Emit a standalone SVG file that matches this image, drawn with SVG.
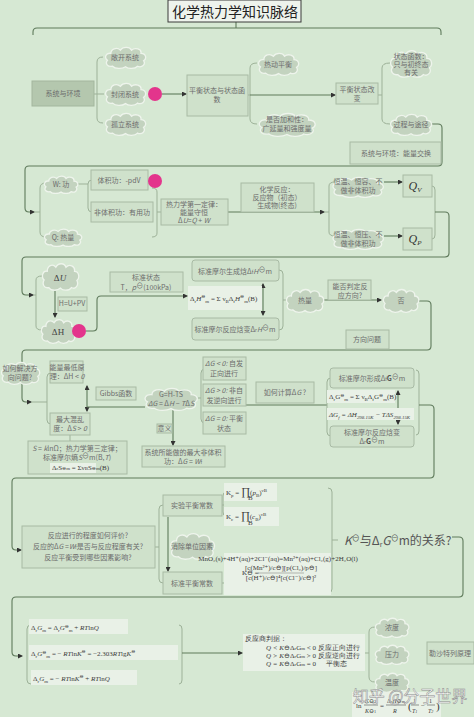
<svg xmlns="http://www.w3.org/2000/svg" xmlns:xlink="http://www.w3.org/1999/xlink" width="474" height="717" viewBox="0 0 474 717">
<defs>
<style>
.bx{fill:#cfe1cb;stroke:#a8baa4;stroke-width:1}
.bd{fill:#b4c7ae;stroke:#a3b69e;stroke-width:1}
.cp{fill:#c3d3bf;stroke:#eef4ec;stroke-width:1.3}
.t{font-family:"Noto Sans CJK SC","Noto Sans",sans-serif;font-size:7px;fill:#6c6c6c;text-anchor:middle}
.ln{fill:none;stroke:#5f7a5b;stroke-width:1.1}
.br{fill:none;stroke:#9db198;stroke-width:1}
.fb{fill:#e9f1e7}
.ff{font-family:"Liberation Serif","DejaVu Serif",serif;font-size:7px;fill:#3a3a3a}
.s{font-size:70%}
.i{font-style:italic}
.pk{fill:#e3358c}
</style>
<symbol id="cloud" viewBox="0 0 100 50" preserveAspectRatio="none">
<path class="cp" vector-effect="non-scaling-stroke" d="M20,44 C8,46 2,38 8,31 C0,26 4,14 16,16 C16,6 30,2 38,9 C44,1 60,1 64,9 C72,3 88,6 86,16 C98,16 100,28 92,32 C98,40 88,48 78,44 C72,50 56,50 50,45 C42,50 26,50 20,44 Z"/>
</symbol>
<marker id="ar" markerWidth="5" markerHeight="5" refX="4" refY="2.5" orient="auto" markerUnits="userSpaceOnUse"><path d="M0,0 L5,2.5 L0,5 Z" fill="#333"/></marker>
<marker id="as" markerWidth="5" markerHeight="5" refX="1" refY="2.5" orient="auto" markerUnits="userSpaceOnUse"><path d="M5,0 L0,2.5 L5,5 Z" fill="#333"/></marker>
</defs>
<rect width="474" height="717" fill="#d6e8d3"/>

<g id="connectors">
<path class="ln" d="M236,22 L236,28 M33,35 L33,32 Q33,28 37,28 L437,28 Q441,28 441,32 L441,35"/>
<path class="br" d="M94,94 L97,94 M103,57 Q97,57 97,62 L97,118 Q97,123 103,123 M97,94 L104,94"/>
<path class="ln" d="M162,94 L186,94" marker-end="url(#ar)"/>
<path class="br" d="M248,95 L250,95 M257,63 Q250,63 250,68 L250,119 Q250,124 257,124"/>
<path class="ln" d="M250,95 L335,95" marker-end="url(#ar)"/>
<path class="br" d="M378,95 L382,95 M390,63 Q382,63 382,68 L382,119 Q382,124 390,124"/>
<path class="ln" d="M432,124 L438,124 Q442,124 442,128 L442,162 Q442,166 438,166 L29,166 Q25,166 25,170 L25,208 Q25,212 29,212 L34,212" marker-end="url(#ar)"/>
<path class="br" d="M34,212 L40,212 M46,183 Q40,183 40,188 L40,232 Q40,237 46,237"/>
<path class="br" d="M78,184 L88,184 M92,180 Q88,180 88,184 L88,208 Q88,212 92,212"/>
<path class="br" d="M152,188 Q157,188 157,192 L157,233 Q157,237 152,237 M157,212 L161,212"/>
<path class="ln" d="M228,212 L324,212" marker-end="url(#ar)"/>
<path class="br" d="M324,212 L329,212 M335,182 Q329,182 329,186 L329,232 Q329,236 335,236"/>
<path class="ln" d="M384,182 L402,182" marker-end="url(#ar)"/>
<path class="ln" d="M384,236 L402,236" marker-end="url(#ar)"/>
<path class="br" d="M432,186 Q435,186 435,190 L435,235 Q435,239 432,239"/>
<path class="ln" d="M435,212 L445,212 Q449,212 449,216 L449,253 Q449,257 445,257 L26,257 Q22,257 22,261 L22,291 Q22,295 26,295 L33,295" marker-end="url(#ar)"/>
<path class="br" d="M33,295 L36,295 M42,276 Q36,276 36,280 L36,326 Q36,330 42,330"/>
<path class="ln" d="M55,291 L55,317" marker-end="url(#ar)"/>
<path class="ln" d="M86,331 L93,331 Q97,331 97,327 L97,300 Q97,296 101,296 L187,296" marker-end="url(#ar)"/>
<path class="ln" d="M263,284 L263,315" marker-start="url(#as)" marker-end="url(#ar)"/>
<path class="br" d="M279,270 Q283,270 283,274 L283,326 Q283,330 279,330 M283,300 L286,300"/>
<path class="ln" d="M324,300 L381,300" marker-end="url(#ar)"/>
<path class="ln" d="M419,301 L427,301 Q431,301 431,305 L431,346 Q431,350 427,350 L26,350 Q22,350 22,354 L22,398 Q22,402 26,402 L31,402" marker-end="url(#ar)"/>
<path class="br" d="M31,402 L47,402 M51,373 Q47,373 47,377 L47,420 Q47,424 51,424"/>
<path class="br" d="M70,435 L70,441"/>
<path class="ln" d="M87,386 L87,411" marker-start="url(#as)" marker-end="url(#ar)"/>
<path class="ln" d="M87,407 L145,407"/>
<path class="br" d="M198,398 L201,398 M205,369 Q201,369 201,373 L201,419 Q201,423 205,423"/>
<path class="ln" d="M173,410 L173,445" marker-end="url(#ar)"/>
<path class="ln" d="M246,405 L327,405"/>
<path class="br" d="M331,378 Q327,378 327,382 L327,432 Q327,436 331,436"/>
<path class="ln" d="M398,391 L398,424" marker-start="url(#as)" marker-end="url(#ar)"/>
<path class="br" d="M416,370 Q419,370 419,374 L419,431 Q419,435 416,435"/>
<path class="ln" d="M419,405 L430,405 Q434,405 434,409 L434,474 Q434,478 430,478 L16,478 Q12,478 12,482 L12,546 Q12,550 16,550 L21,550" marker-end="url(#ar)"/>
<path class="br" d="M155,547 L159,547 M163,505 Q159,505 159,509 L159,579 Q159,583 163,583"/>
<path class="ln" d="M168,517 L168,571" marker-end="url(#ar)"/>
<path class="br" d="M222,505 L224,505 M226,492 Q223,492 223,496 L223,512 Q223,516 226,516"/>
<path class="br" d="M222,583 L224,583"/>
<path class="br" d="M328,488 Q332,488 332,492 L332,589 Q332,593 328,593 M332,540 L338,540"/>
<path class="ln" d="M452,537 L459,537 Q463,537 463,541 L463,593 Q463,597 459,597 L16,597 Q12,597 12,601 L12,652 Q12,656 16,656 L22,656" marker-end="url(#ar)"/>
<path class="br" d="M31,625 Q27,625 27,629 L27,680 Q27,684 31,684"/>
<path class="br" d="M179,625 Q182,625 182,629 L182,680 Q182,684 179,684"/>
<path class="ln" d="M182,653 L242,653" marker-end="url(#ar)"/>
<path class="br" d="M365,653 L369,653 M375,627 Q369,627 369,632 L369,677 Q369,682 375,682"/>
</g>

<g id="title"><rect x="168" y="0" width="133" height="22" fill="#eef3ec" stroke="#3a3a3a" stroke-width="1"/><text x="235" y="17" font-family="Noto Sans CJK SC,sans-serif" font-size="14" fill="#222" text-anchor="middle">化学热力学知识脉络</text></g>

<g id="n-sys"><rect class="bd" x="32" y="81" width="62" height="25"/><text class="t" x="63" y="96">系统与环境</text></g>
<g id="n-open"><use href="#cloud" x="104" y="46" width="43" height="23"/><text class="t" x="125" y="60">敞开系统</text></g>
<g id="n-closed"><use href="#cloud" x="104" y="82" width="43" height="24"/><text class="t" x="125" y="97">封闭系统</text></g>
<g id="n-isol"><use href="#cloud" x="104" y="112" width="43" height="24"/><text class="t" x="125" y="127">孤立系统</text></g>
<circle id="p1" class="pk" cx="155" cy="94" r="7"/>
<g id="n-eq"><rect class="bx" x="187" y="75" width="61" height="41"/><text class="t" x="217" y="93">平衡状态与状态函</text><text class="t" x="217" y="102">数</text></g>
<g id="n-thermeq"><use href="#cloud" x="257" y="52" width="43" height="24"/><text class="t" x="278" y="67">热动平衡</text></g>
<g id="n-add"><use href="#cloud" x="257" y="112" width="60" height="25"/><text class="t" x="287" y="122">是否加和性：</text><text class="t" x="287" y="131">广延量和强度量</text></g>
<g id="n-chg"><rect class="bx" x="336" y="83" width="42" height="21"/><text class="t" x="357" y="92">平衡状态改</text><text class="t" x="357" y="101">变</text></g>
<g id="n-sf"><use href="#cloud" x="389" y="49" width="44" height="29"/><text class="t" x="411" y="59">状态函数：</text><text class="t" x="411" y="67">只与初终态</text><text class="t" x="411" y="75">有关</text></g>
<g id="n-proc"><use href="#cloud" x="389" y="113" width="44" height="23"/><text class="t" x="411" y="127">过程与途径</text></g>
<g id="n-exch"><rect class="bx" x="350" y="142" width="91" height="22"/><text class="t" x="396" y="156">系统与环境：能量交换</text></g>

<g id="n-W"><use href="#cloud" x="43" y="175" width="36" height="19"/><text class="t" x="61" y="187">W: 功</text></g>
<g id="n-Q"><use href="#cloud" x="43" y="228" width="40" height="19"/><text class="t" x="63" y="240">Q: 热量</text></g>
<g id="n-vol"><rect class="bx" x="91" y="170" width="57" height="20"/><text class="t" x="119" y="183">体积功：-pdV</text></g>
<circle id="p2" class="pk" cx="155" cy="181" r="7"/>
<g id="n-nonvol"><rect class="bx" x="91" y="202" width="62" height="20"/><text class="t" x="122" y="215">非体积功：有用功</text></g>
<g id="n-law1"><rect class="bx" x="161" y="199" width="67" height="26"/><text class="t" x="194" y="207">热力学第一定律：</text><text class="t" x="194" y="215">能量守恒</text><text class="t" x="194" y="223">Δ<tspan class="i">U</tspan>=<tspan class="i">Q</tspan> + <tspan class="i">W</tspan></text></g>
<g id="n-rxn"><rect class="bx" x="241" y="183" width="73" height="29"/><text class="t" x="277" y="192">化学反应：</text><text class="t" x="277" y="200">反应物（初态）</text><text class="t" x="277" y="208">生成物(终态)</text></g>
<g id="n-cv"><use href="#cloud" x="331" y="176" width="54" height="22"/><text class="t" x="358" y="184">恒温、恒容、不</text><text class="t" x="358" y="193">做非体积功</text></g>
<g id="n-cp"><use href="#cloud" x="331" y="228" width="54" height="22"/><text class="t" x="358" y="237">恒温、恒压、不</text><text class="t" x="358" y="246">做非体积功</text></g>
<g id="n-Qv"><rect class="bx" x="403" y="175" width="29" height="22"/><text x="415" y="190" font-family="Liberation Serif,serif" font-size="12" font-style="italic" fill="#333" text-anchor="middle">Q<tspan font-size="7" dy="2">V</tspan></text></g>
<g id="n-Qp"><rect class="bx" x="403" y="228" width="29" height="22"/><text x="415" y="243" font-family="Liberation Serif,serif" font-size="12" font-style="italic" fill="#333" text-anchor="middle">Q<tspan font-size="7" dy="2">P</tspan></text></g>

<g id="n-dU"><use href="#cloud" x="41" y="262" width="39" height="29"/><text x="60" y="281" font-family="Liberation Serif,serif" font-size="9" fill="#444" text-anchor="middle">Δ<tspan class="i">U</tspan></text></g>
<g id="n-dH"><use href="#cloud" x="40" y="318" width="37" height="26"/><text x="58" y="335" font-family="Liberation Serif,serif" font-size="9" fill="#444" text-anchor="middle">ΔH</text></g>
<g id="n-HUPV"><rect class="bx" x="58" y="297" width="29" height="14"/><text class="t" x="72" y="306" font-size="4.5">H=U+PV</text></g>
<circle id="p3" class="pk" cx="79" cy="331" r="7"/>
<g id="n-std"><rect class="bx" x="110" y="272" width="73" height="20"/><text class="t" x="146" y="280">标准状态</text><text class="t" x="146" y="290">T，<tspan class="i">p</tspan><tspan dy="-2">⊖</tspan><tspan dy="2">(100kPa)</tspan></text></g>
<g id="f-dfH"><rect class="fb" x="188" y="286" width="74" height="24"/><text class="ff" x="190" y="301">Δ<tspan class="s" dy="2">r</tspan><tspan dy="-2" class="i">H</tspan><tspan class="s" dy="-3">⊖</tspan><tspan class="s" dy="5">m</tspan><tspan dy="-2"> = Σ ν</tspan><tspan class="s" dy="2">B</tspan><tspan dy="-2">Δ</tspan><tspan class="s" dy="2">f</tspan><tspan dy="-2" class="i">H</tspan><tspan class="s" dy="-3">⊖</tspan><tspan class="s" dy="5">m</tspan><tspan dy="-2">(B)</tspan></text></g>
<g id="n-fH"><rect class="bx" x="192" y="260" width="87" height="21" rx="3"/><text class="t" x="235" y="274">标准摩尔生成焓Δ<tspan class="s">f</tspan><tspan class="i">H</tspan><tspan dy="-2">⊖</tspan><tspan dy="2">m</tspan></text></g>
<g id="n-rH"><rect class="bx" x="192" y="318" width="87" height="22" rx="3"/><text class="t" x="235" y="332">标准摩尔反应焓变Δ<tspan class="s">r</tspan><tspan class="i">H</tspan><tspan dy="-2">⊖</tspan><tspan dy="2">m</tspan></text></g>
<g id="n-heat"><use href="#cloud" x="285" y="288" width="40" height="25"/><text class="t" x="305" y="303">热量</text></g>
<g id="n-judge"><rect class="bx" x="328" y="280" width="43" height="20"/><text class="t" x="350" y="289">能否判定反</text><text class="t" x="350" y="298">应方向?</text></g>
<g id="n-no"><use href="#cloud" x="382" y="288" width="38" height="25"/><text class="t" x="401" y="303">否</text></g>
<g id="n-dir"><rect class="bx" x="346" y="330" width="43" height="19"/><text class="t" x="367" y="342">方向问题</text></g>

<g id="n-how"><use href="#cloud" x="0" y="361" width="41" height="24"/><text class="t" x="20" y="371">如何解决方</text><text class="t" x="20" y="380">向问题?</text></g>
<g id="n-Hmin"><rect class="bx" x="50" y="361" width="33" height="22"/><text class="t" x="67" y="370">能量最低原</text><text class="t" x="67" y="379">理：ΔH &lt; <tspan class="i">0</tspan></text></g>
<g id="n-Smax"><rect class="bx" x="50" y="413" width="40" height="22"/><text class="t" x="70" y="422">最大混乱</text><text class="t" x="70" y="431">度：Δ<tspan class="i">S</tspan> &gt; <tspan class="i">0</tspan></text></g>
<g id="n-gibbs"><rect class="bx" x="96" y="387" width="40" height="13"/><text class="t" x="116" y="396">Gibbs函数</text></g>
<g id="n-G"><use href="#cloud" x="143" y="387" width="56" height="24"/><text class="t" x="171" y="397" fill="#555">G=H-TS</text><text class="t" x="171" y="406" fill="#555"><tspan class="i">Δ</tspan><tspan class="i">G</tspan> = Δ<tspan class="i">H</tspan> − <tspan class="i">T</tspan>Δ<tspan class="i">S</tspan></text></g>
<g id="n-lt"><rect class="bx" x="203" y="357" width="43" height="23"/><text class="t" x="224" y="366"><tspan class="i">ΔG &lt; 0:</tspan> 自发</text><text class="t" x="224" y="376">正向进行</text></g>
<g id="n-gt"><rect class="bx" x="203" y="384" width="43" height="22"/><text class="t" x="224" y="393"><tspan class="i">ΔG &gt; 0:</tspan> 非自</text><text class="t" x="224" y="403">发逆向进行</text></g>
<g id="n-eq0"><rect class="bx" x="203" y="412" width="43" height="22"/><text class="t" x="224" y="421"><tspan class="i">ΔG = 0:</tspan> 平衡</text><text class="t" x="224" y="431">状态</text></g>
<g id="n-mean"><rect class="bx" x="157" y="424" width="15" height="9"/><text class="t" x="164.5" y="431" font-size="5.5">意义</text></g>
<g id="n-Wf"><rect class="bx" x="142" y="446" width="83" height="21"/><text class="t" x="183" y="455">系统所能做的最大非体积</text><text class="t" x="183" y="464">功：Δ<tspan class="i">G</tspan> = <tspan class="i">W</tspan><tspan class="s">f</tspan></text></g>
<g id="n-S"><rect class="bx" x="28" y="441" width="99" height="33"/><text class="t" x="77" y="451"><tspan class="i">S</tspan> = <tspan class="i">k</tspan>lnΩ；热力学第三定律；</text><text class="t" x="77" y="460">标准摩尔熵<tspan class="i">S</tspan><tspan dy="-2">⊖</tspan><tspan dy="2">m(B,</tspan><tspan class="i">T</tspan>)</text><rect class="fb" x="50" y="463" width="46" height="10"/><text class="ff" x="52" y="470" font-size="4.5">Δ<tspan class="s">r</tspan>S<tspan class="s">⊖m</tspan> = Σν<tspan class="s">B</tspan>S<tspan class="s">⊖m</tspan>(B)</text></g>
<g id="n-calc"><rect class="bx" x="256" y="382" width="58" height="21"/><text class="t" x="285" y="395">如何计算Δ<tspan class="i">G</tspan> ?</text></g>
<g id="n-fG"><rect class="bx" x="330" y="368" width="84" height="20" rx="3"/><text class="t" x="372" y="381">标准摩尔形成Δ<tspan class="s">f</tspan><tspan font-weight="bold" fill="#555">G</tspan><tspan dy="-2">⊖</tspan><tspan dy="2">m</tspan></text></g>
<g id="f-rG1"><rect class="fb" x="327" y="390" width="68" height="13"/><text class="ff" x="329" y="399" font-size="6.5">Δ<tspan class="s" dy="1.5">r</tspan><tspan dy="-1.5">G</tspan><tspan class="s" dy="-2">⊖</tspan><tspan class="s" dy="3.5">m</tspan><tspan dy="-1.5"> = Σ ν</tspan><tspan class="s" dy="1.5">B</tspan><tspan dy="-1.5">Δ</tspan><tspan class="s" dy="1.5">f</tspan><tspan dy="-1.5">G</tspan><tspan class="s" dy="-2">⊖</tspan><tspan class="s" dy="3.5">m</tspan><tspan dy="-1.5">(B)</tspan></text></g>
<g id="f-rG2"><rect class="fb" x="327" y="408" width="87" height="12"/><text class="ff" x="329" y="417" font-size="6.5" font-style="italic">ΔG<tspan class="s" dy="1.5">f</tspan><tspan dy="-1.5"> = ΔH</tspan><tspan class="s" dy="1.5">298.15K</tspan><tspan dy="-1.5"> − TΔS</tspan><tspan class="s" dy="1.5">298.15K</tspan></text></g>
<g id="n-rG"><rect class="bx" x="330" y="426" width="84" height="21" rx="3"/><text class="t" x="372" y="435">标准摩尔反应焓变</text><text class="t" x="372" y="444">Δ<tspan class="s">r</tspan><tspan font-weight="bold" fill="#555">G</tspan><tspan dy="-2">⊖</tspan><tspan dy="2">m</tspan></text></g>

<g id="n-q"><rect class="bx" x="22" y="526" width="133" height="42"/><text class="t" x="88" y="538" font-size="7.5">反应进行的程度如何评价?</text><text class="t" x="88" y="549" font-size="7.5">反应的Δ<tspan class="i">G</tspan> =<tspan class="i">W</tspan><tspan class="s">f</tspan>是否与反应程度有关?</text><text class="t" x="88" y="560" font-size="7.5">反应平衡受到哪些因素影响?</text></g>
<g id="n-Kexp"><rect class="bx" x="163" y="495" width="59" height="21"/><text class="t" x="192" y="508">实验平衡常数</text></g>
<g id="n-unit"><use href="#cloud" x="169" y="532" width="47" height="28"/><text class="t" x="192" y="549">消除单位因素</text></g>
<g id="n-Kstd"><rect class="bx" x="163" y="572" width="59" height="22"/><text class="t" x="192" y="586">标准平衡常数</text></g>
<g id="f-Kp"><rect class="fb" x="224" y="483" width="53" height="18"/><text class="ff" x="226" y="495" font-size="8">K<tspan class="s" dy="2">p</tspan><tspan dy="-2"> = </tspan><tspan font-size="11">∏</tspan>(<tspan class="i">p</tspan><tspan class="s" dy="2">B</tspan><tspan dy="-2">)</tspan><tspan class="s" dy="-3">νB</tspan></text><text class="ff" x="248" y="500" font-size="4">B</text></g>
<g id="f-Kc"><rect class="fb" x="224" y="507" width="55" height="19"/><text class="ff" x="226" y="519" font-size="8">K<tspan class="s" dy="2">c</tspan><tspan dy="-2"> = </tspan><tspan font-size="11">∏</tspan>(<tspan class="i">c</tspan><tspan class="s" dy="2">B</tspan><tspan dy="-2">)</tspan><tspan class="s" dy="-3">νB</tspan></text><text class="ff" x="248" y="525" font-size="4">B</text></g>
<g id="f-Kstd"><rect class="fb" x="224" y="553" width="107" height="42"/><text class="ff" x="278" y="561" font-size="3.6" text-anchor="middle">MnO₂(s)+4H⁺(aq)+2Cl⁻(aq)=Mn²⁺(aq)+Cl₂(g)+2H₂O(l)</text><text class="ff" x="281" y="570" font-size="3.6" text-anchor="middle">[c(Mn²⁺)/c⊖][p(Cl₂)/p⊖]</text><line x1="258" y1="573" x2="304" y2="573" stroke="#555" stroke-width="0.4"/><text class="ff" x="242" y="575" font-size="4">K⊖ =</text><text class="ff" x="281" y="580" font-size="3.6" text-anchor="middle">[c(H⁺)/c⊖]⁴[c(Cl⁻)/c⊖]²</text></g>
<g id="n-rel"><text x="344" y="545" font-family="Noto Sans CJK SC,sans-serif" font-size="12" fill="#555"><tspan class="i">K</tspan><tspan font-size="8" dy="-4">⊖</tspan><tspan dy="4">与Δ</tspan><tspan font-size="7" dy="2">r</tspan><tspan class="i" dy="-2">G</tspan><tspan font-size="8" dy="-4">⊖</tspan><tspan dy="4">m的关系?</tspan></text></g>

<g id="f-1"><rect class="fb" x="29" y="619" width="99" height="15"/><text class="ff" x="31" y="630" font-size="8">Δ<tspan class="s" dy="2">r</tspan><tspan class="i" dy="-2">G</tspan><tspan class="s" dy="2">m</tspan><tspan dy="-2"> = Δ</tspan><tspan class="s" dy="2">r</tspan><tspan class="i" dy="-2">G</tspan><tspan class="s" dy="-2">⊖</tspan><tspan class="s" dy="4">m</tspan><tspan dy="-2"> + </tspan><tspan class="i">RT</tspan>ln<tspan class="i">Q</tspan></text></g>
<g id="f-2"><rect class="fb" x="29" y="645" width="149" height="15"/><text class="ff" x="31" y="656" font-size="8">Δ<tspan class="s" dy="2">r</tspan><tspan class="i" dy="-2">G</tspan><tspan class="s" dy="-2">⊖</tspan><tspan class="s" dy="4">m</tspan><tspan dy="-2"> = − </tspan><tspan class="i">RT</tspan>ln<tspan class="i">K</tspan><tspan class="s" dy="-3">⊖</tspan><tspan dy="3"> = −2.303</tspan><tspan class="i">RT</tspan>lg<tspan class="i">K</tspan><tspan class="s" dy="-3">⊖</tspan></text></g>
<g id="f-3"><rect class="fb" x="31" y="670" width="106" height="15"/><text class="ff" x="33" y="681" font-size="8">Δ<tspan class="s" dy="2">r</tspan><tspan class="i" dy="-2">G</tspan><tspan class="s" dy="2">m</tspan><tspan dy="-2"> = − </tspan><tspan class="i">RT</tspan>ln<tspan class="i">K</tspan><tspan class="s" dy="-3">⊖</tspan><tspan dy="3"> + </tspan><tspan class="i">RT</tspan>ln<tspan class="i">Q</tspan></text></g>
<g id="f-Q"><rect class="fb" x="243" y="634" width="122" height="37"/><g class="ff" font-size="5"><text x="245" y="641">反应商判据：</text><text x="266" y="650" font-style="italic">Q &lt; K⊖</text><text x="290" y="650">Δ<tspan class="s">r</tspan>G<tspan class="s">m</tspan> &lt; 0</text><text x="318" y="650">反应正向进行</text><text x="266" y="658" font-style="italic">Q &gt; K⊖</text><text x="290" y="658">Δ<tspan class="s">r</tspan>G<tspan class="s">m</tspan> &gt; 0</text><text x="318" y="658">反应逆向进行</text><text x="266" y="666" font-style="italic">Q = K⊖</text><text x="290" y="666">Δ<tspan class="s">r</tspan>G<tspan class="s">m</tspan> = 0</text><text x="326" y="666">平衡态</text></g></g>
<g id="n-conc"><use href="#cloud" x="374" y="617" width="36" height="21"/><text class="t" x="392" y="630">浓度</text></g>
<g id="n-pres"><use href="#cloud" x="374" y="644" width="36" height="21"/><text class="t" x="392" y="657">压力</text></g>
<g id="n-temp"><use href="#cloud" x="374" y="672" width="36" height="21"/><text class="t" x="392" y="685">温度</text></g>
<g id="n-lech"><rect class="bx" x="427" y="642" width="47" height="22"/><text class="t" x="450" y="656" font-size="6.5">勒沙特列原理</text></g>
<g id="f-vh"><rect class="fb" x="352" y="692" width="89" height="25"/><g class="ff" font-size="7"><text x="356" y="708">ln</text><text x="365" y="703" font-size="6"><tspan class="i">K</tspan>⊖<tspan class="s">2</tspan></text><line x1="364" y1="705" x2="378" y2="705" stroke="#333" stroke-width="0.5"/><text x="365" y="713" font-size="6"><tspan class="i">K</tspan>⊖<tspan class="s">1</tspan></text><text x="380" y="708">=</text><text x="387" y="703" font-size="6">Δ<tspan class="s">r</tspan><tspan class="i">H</tspan>⊖<tspan class="s">m</tspan></text><line x1="386" y1="705" x2="406" y2="705" stroke="#333" stroke-width="0.5"/><text x="393" y="713" font-size="6" font-style="italic">R</text><text x="408" y="710" font-size="11">(</text><text x="413" y="703" font-size="6">1</text><line x1="411" y1="705" x2="419" y2="705" stroke="#333" stroke-width="0.5"/><text x="412" y="713" font-size="6" font-style="italic">T<tspan class="s">1</tspan></text><text x="421" y="708">−</text><text x="429" y="703" font-size="6">1</text><line x1="427" y1="705" x2="435" y2="705" stroke="#333" stroke-width="0.5"/><text x="428" y="713" font-size="6" font-style="italic">T<tspan class="s">2</tspan></text><text x="436" y="710" font-size="11">)</text></g></g>
<g id="watermark"><text x="410" y="702" font-family="Noto Sans CJK SC,sans-serif" font-size="16" fill="#ffffff" fill-opacity="0.85" stroke="#8a8a8a" stroke-width="0.5" text-anchor="middle">知乎 @分子世界</text></g>
</svg>
